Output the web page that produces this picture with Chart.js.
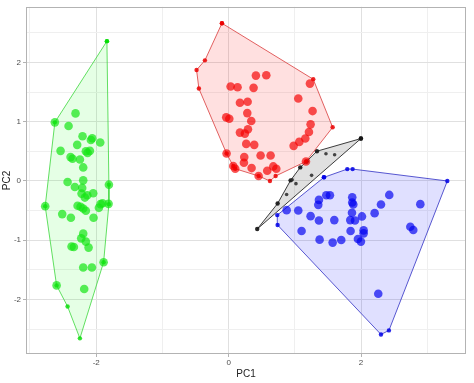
<!DOCTYPE html>
<html>
<head>
<meta charset="utf-8">
<script src="https://cdn.jsdelivr.net/npm/chart.js@4/dist/chart.umd.min.js"></script>
<style>
html,body{margin:0;padding:0;background:#fff;}
#wrap{width:474px;height:383px;position:relative;}
</style>
</head>
<body>
<div id="wrap"><canvas id="c" width="474" height="383"></canvas></div>
<script>
// ---- data (PC1, PC2) ----
const greenX = [-2.312,-2.417,-2.206,-2.060,-2.080,-1.939,-2.287,-2.538,-2.156,-2.095,-2.130,-2.387,-2.357,-2.246,-2.196,-2.432,-2.196,-2.322,-2.211,-2.221,-2.135,-2.045,-2.171,-2.281,-2.236,-2.196,-2.156,-1.934,-1.904,-1.959,-1.813,-2.513,-2.382,-2.040,-2.196,-2.226,-2.156,-2.115,-2.372,-2.337,-2.196,-2.065,-2.181,-1.808,-2.624,-2.770,-2.598,-1.888];
const greenY = [1.141,0.928,0.755,0.721,0.693,0.649,0.610,0.509,0.503,0.509,0.475,0.403,0.375,0.364,0.229,-0.017,0.011,-0.101,-0.117,-0.213,-0.240,-0.207,-0.280,-0.419,-0.436,-0.464,-0.503,-0.391,-0.375,-0.453,-0.386,-0.559,-0.621,-0.621,-0.889,-0.968,-1.023,-1.124,-1.107,-1.113,-1.460,-1.460,-1.823,-0.062,0.990,-0.425,-1.762,-1.371];
const greenHullX = [-1.838,-1.808,-1.808,-1.888,-2.246,-2.432,-2.598,-2.770,-2.624,-1.838];
const greenHullY = [2.360,-0.062,-0.391,-1.371,-2.656,-2.119,-1.762,-0.425,0.990,2.360];

const redX = [0.412,0.569,0.030,0.135,0.377,1.228,0.171,0.287,1.052,1.268,0.282,-0.036,0.010,0.342,0.292,0.171,0.246,1.238,1.213,1.158,1.067,0.982,0.266,0.387,0.483,0.634,0.236,0.231,0.347,0.583,0.674,0.720,-0.031,0.070,0.100,0.453,1.168];
const redY = [1.779,1.784,1.594,1.583,1.572,1.644,1.320,1.337,1.393,1.180,1.146,1.074,1.051,1.012,0.872,0.817,0.800,0.956,0.828,0.716,0.660,0.593,0.626,0.610,0.431,0.431,0.403,0.308,0.218,0.173,0.246,0.207,0.464,0.252,0.207,0.084,0.330];
const redHullX = [-0.101,1.278,1.571,1.168,0.710,0.624,0.453,0.100,0.070,-0.031,-0.449,-0.484,-0.358,-0.101];
const redHullY = [2.662,1.717,0.906,0.330,0.084,0.000,0.084,0.207,0.252,0.464,1.560,1.874,2.036,2.662];

const blackX = [1.470,1.601,1.253,1.017,0.876,0.960];
const blackY = [0.459,0.442,0.095,-0.045,-0.229,0.020];
const blackHullX = [1.998,0.432,0.740,0.936,1.082,1.178,1.334,1.998];
const blackHullY = [0.716,-0.811,-0.380,0.011,0.229,0.330,0.503,0.716];

const blueX = [1.475,1.530,1.364,1.354,1.867,1.867,1.883,2.426,2.301,2.895,0.876,1.052,1.238,1.863,2.014,2.205,1.364,1.596,1.837,1.908,1.102,1.842,2.039,2.039,2.744,2.789,1.374,1.571,1.701,1.953,1.998,2.260];
const blueY = [-0.240,-0.240,-0.319,-0.403,-0.274,-0.364,-0.397,-0.235,-0.397,-0.391,-0.492,-0.498,-0.593,-0.537,-0.598,-0.543,-0.666,-0.660,-0.660,-0.666,-0.844,-0.844,-0.833,-0.884,-0.772,-0.828,-0.990,-1.040,-0.996,-0.979,-1.023,-1.902];
const blueHullX = [1.440,1.792,1.873,3.303,2.421,2.301,0.740,0.735,1.440];
const blueHullY = [0.062,0.201,0.201,0.000,-2.522,-2.590,-0.744,-0.576,0.062];

const xTicks = [-3,-2,-1,0,1,2,3];
const yTicks = [-2.5,-2,-1.5,-1,-0.5,0,0.5,1,1.5,2,2.5];

// ---- helpers ----
const pts = (xs, ys) => xs.map((x, i) => ({x: x, y: ys[i]}));

function pointSet(xs, ys, color, r) {
  return {
    data: pts(xs, ys), showLine: false, order: 0,
    pointRadius: r, pointHoverRadius: r,
    backgroundColor: color, borderColor: color, borderWidth: 0
  };
}
function hullSet(xs, ys, line, fill, vcolor) {
  return {
    data: pts(xs, ys), showLine: true, fill: 'shape', order: 1,
    borderColor: line, borderWidth: 1, backgroundColor: fill,
    tension: 0, pointRadius: 2.2, pointBackgroundColor: vcolor,
    pointBorderWidth: 0
  };
}

const panelBorder = {
  id: 'panelBorder',
  afterDraw(chart) {
    const a = chart.chartArea, ctx = chart.ctx;
    ctx.save();
    ctx.strokeStyle = '#b3b3b3';
    ctx.lineWidth = 1;
    ctx.strokeRect(Math.round(a.left) + 0.5, Math.round(a.top) + 0.5,
                   Math.round(a.right - a.left) - 1, Math.round(a.bottom - a.top) - 1);
    ctx.restore();
  }
};

new Chart(document.getElementById('c'), {
  type: 'scatter',
  data: {
    datasets: [
      pointSet(greenX, greenY, 'rgba(20,230,20,0.7)', 4.3),
      pointSet(redX, redY, 'rgba(245,0,0,0.68)', 4.3),
      pointSet(blueX, blueY, 'rgba(0,0,240,0.68)', 4.3),
      pointSet(blackX, blackY, 'rgba(40,40,40,0.85)', 1.8),
      hullSet(greenHullX, greenHullY, 'rgba(60,215,60,0.8)', 'rgba(0,255,0,0.10)', 'rgba(0,220,0,0.8)'),
      hullSet(redHullX, redHullY, 'rgba(220,70,70,0.85)', 'rgba(255,0,0,0.12)', 'rgba(235,0,0,0.85)'),
      hullSet(blueHullX, blueHullY, 'rgba(60,60,200,0.85)', 'rgba(0,0,255,0.12)', 'rgba(0,0,230,0.85)'),
      hullSet(blackHullX, blackHullY, 'rgba(40,40,40,0.9)', 'rgba(0,0,0,0.12)', 'rgba(20,20,20,0.9)')
    ]
  },
  options: {
    responsive: false,
    animation: false,
    events: [],
    layout: {padding: {left: 0, right: 8, top: 4, bottom: 0}},
    plugins: {legend: {display: false}, tooltip: {enabled: false}},
    scales: {
      x: {
        type: 'linear', min: -3.06, max: 3.585,
        afterBuildTicks: s => { s.ticks = xTicks.map(v => ({value: v})); },
        afterFit: s => { s.height = 29; },
        border: {display: false},
        grid: {
          color: c => (c.tick && Math.abs(c.tick.value % 2) < 1e-9) ? '#e0e0e0' : '#efefef',
          tickColor: c => (c.tick && Math.abs(c.tick.value % 2) < 1e-9) ? '#b3b3b3' : 'rgba(0,0,0,0)',
          tickLength: 3, lineWidth: 1
        },
        ticks: {
          padding: 1, color: '#4d4d4d', font: {family: 'Liberation Sans', size: 8},
          maxRotation: 0, autoSkip: false,
          callback: v => (Math.abs(v % 2) < 1e-9) ? String(v) : ''
        },
        title: {display: true, text: 'PC1', color: '#222', font: {family: 'Liberation Sans', size: 10},
                padding: {top: 0, bottom: 3}}
      },
      y: {
        type: 'linear', min: -2.92, max: 2.94,
        afterBuildTicks: s => { s.ticks = yTicks.map(v => ({value: v})); },
        afterFit: s => { s.width = 26; },
        border: {display: false},
        grid: {
          color: c => (c.tick && Number.isInteger(c.tick.value)) ? '#e0e0e0' : '#efefef',
          tickColor: c => (c.tick && Number.isInteger(c.tick.value)) ? '#b3b3b3' : 'rgba(0,0,0,0)',
          tickLength: 3, lineWidth: 1
        },
        ticks: {
          padding: 2, color: '#4d4d4d', font: {family: 'Liberation Sans', size: 8},
          autoSkip: false,
          callback: v => Number.isInteger(v) ? String(v) : ''
        },
        title: {display: true, text: 'PC2', color: '#222', font: {family: 'Liberation Sans', size: 10},
                padding: {top: 1.5, bottom: 0}}
      }
    }
  },
  plugins: [panelBorder]
});
</script>
</body>
</html>
